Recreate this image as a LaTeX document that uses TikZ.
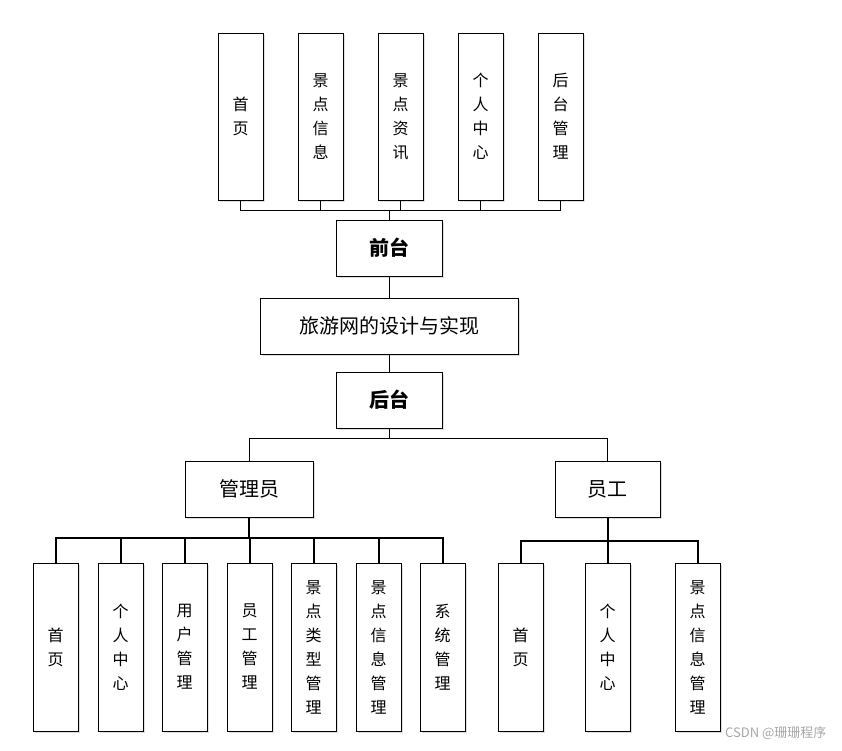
\documentclass[tikz,border=0pt]{standalone}
\usepackage{fontspec}
\newfontfamily\cjk{Noto Sans CJK SC}
\usetikzlibrary{shadows}
\begin{document}
\begin{tikzpicture}[x=1pt,y=-1pt,
  box/.style={draw=black,fill=white,line width=0.8pt,inner sep=0pt,
    drop shadow={shadow xshift=1.5pt,shadow yshift=-1.5pt,opacity=0.25},font=\cjk\fontsize{16}{24}\selectfont,align=center},
  conn/.style={line width=0.7pt},
  boldconn/.style={line width=2pt}]
\useasboundingbox (0,0) rectangle (842,750);
\newcommand{\mybox}[4]{\node[box,minimum width=45pt,minimum height=#3pt] (#1) at (#2) {#4};}
% top
\mybox{t1}{240.5,116.5}{167}{首\\页}
\mybox{t2}{320.5,116.5}{167}{景\\点\\信\\息}
\mybox{t3}{400.5,116.5}{167}{景\\点\\资\\讯}
\mybox{t4}{480.5,116.5}{167}{个\\人\\中\\心}
\mybox{t5}{560.5,116.5}{167}{后\\台\\管\\理}
\node[box,minimum width=106pt,minimum height=56pt,font=\cjk\bfseries\fontsize{20}{22}\selectfont] (qt) at (389,248) {前台};
\node[box,minimum width=258pt,minimum height=56pt,font=\cjk\fontsize{20}{22}\selectfont] (main) at (389,326) {旅游网的设计与实现};
\node[box,minimum width=106pt,minimum height=56pt,font=\cjk\bfseries\fontsize{20}{22}\selectfont] (ht) at (389,400) {后台};
\node[box,minimum width=128pt,minimum height=56pt,font=\cjk\fontsize{20}{22}\selectfont] (gly) at (249,489) {管理员};
\node[box,minimum width=105pt,minimum height=56pt,font=\cjk\fontsize{20}{22}\selectfont] (yg) at (607.5,489) {员工};
% bottom
\mybox{a1}{55.5,647}{168}{首\\页}
\mybox{a2}{120.5,647}{168}{个\\人\\中\\心}
\mybox{a3}{184.5,647}{168}{用\\户\\管\\理}
\mybox{a4}{249.5,647}{168}{员\\工\\管\\理}
\mybox{a5}{313.5,647}{168}{景\\点\\类\\型\\管\\理}
\mybox{a6}{378.5,647}{168}{景\\点\\信\\息\\管\\理}
\mybox{a7}{442.5,647}{168}{系\\统\\管\\理}
\mybox{e1}{520.5,647}{168}{首\\页}
\mybox{e2}{607.5,647}{168}{个\\人\\中\\心}
\mybox{e3}{697.5,647}{168}{景\\点\\信\\息\\管\\理}
% connectors
\foreach \n in {t1,t2,t3,t4,t5} \draw[conn] (\n.south) -- ++(0,10) -| (qt.north);
\draw[conn] (qt.south) -- (main.north);
\draw[conn] (main.south) -- (ht.north);
\draw[conn] (ht.south) -- ++(0,10) -| (gly.north);
\draw[conn] (ht.south) -- ++(0,10) -| (yg.north);
\foreach \n in {a1,a2,a3,a4,a5,a6,a7} \draw[boldconn] (gly.south) -- ++(0,21) -| (\n.north);
\foreach \n in {e1,e2,e3} \draw[boldconn] (yg.south) -- ++(0,24) -| (\n.north);
\node[text=gray!70,font=\cjk\fontsize{13}{15}\selectfont,anchor=east] (wm) at (830,733) {CSDN @珊珊程序};
\end{tikzpicture}
\end{document}
